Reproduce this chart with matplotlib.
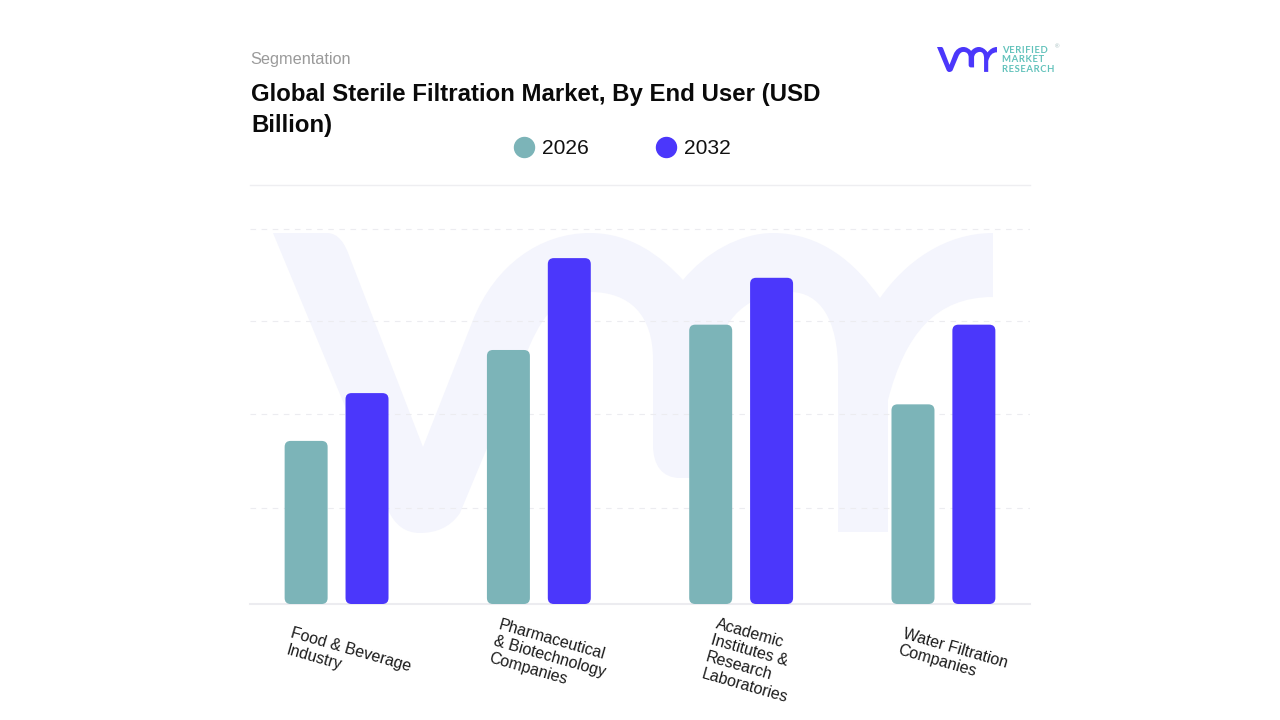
import matplotlib
matplotlib.use("Agg")
import matplotlib.pyplot as plt
from matplotlib.lines import Line2D
from matplotlib.patches import FancyBboxPatch, PathPatch
from matplotlib.path import Path
from matplotlib.transforms import Affine2D, ScaledTranslation

plt.rcParams['font.family'] = ['Liberation Sans', 'DejaVu Sans']

categories = ["Food & Beverage\nIndustry",
              "Pharmaceutical\n& Biotechnology\nCompanies",
              "Academic\nInstitutes &\nResearch\nLaboratories",
              "Water Filtration\nCompanies"]
values_2026 = [1.74, 2.71, 2.98, 2.13]
values_2032 = [2.25, 3.69, 3.48, 2.98]
years = ["2026", "2032"]
grid_levels = [1.024, 2.027, 3.019, 4.0]

TEAL = "#7cb4b8"
BLUE = "#4b37fb"
LOGO_TEAL = "#62c2bb"
GRID = "#ececf0"


def px(v):
    # pixels to points at dpi 100
    return v * 0.72


def logo_path():
    # vmr outline traced in pixels of the big watermark
    M, L, C, Z = Path.MOVETO, Path.LINETO, Path.CURVE4, Path.CLOSEPOLY
    segs = [(M, [(273, 233)]), (L, [(327, 233)]), (C, [(338, 233), (345, 243), (350, 258)]),
            (L, [(423, 447)]), (L, [(473, 320)]),
            (C, [(495, 265), (540, 233), (590, 233)]),
            (C, [(630, 233), (660, 255), (683, 280)]),
            (C, [(705, 253), (740, 233), (773, 233)]),
            (C, [(820, 233), (855, 262), (880, 298)]),
            (C, [(905, 262), (945, 233), (993, 233)]),
            (L, [(993, 297)]),
            (C, [(935, 297), (905, 335), (888, 400)]),
            (L, [(888, 532)]), (L, [(838, 532)]), (L, [(838, 370)]),
            (C, [(838, 320), (820, 292), (790, 292)]),
            (C, [(750, 292), (718, 320), (718, 360)]),
            (L, [(718, 478)]), (L, [(680, 478)]),
            (C, [(662, 478), (653, 465), (653, 445)]),
            (L, [(653, 360)]),
            (C, [(653, 315), (630, 292), (590, 292)]),
            (C, [(565, 292), (545, 310), (530, 345)]),
            (L, [(460, 513)]),
            (C, [(450, 528), (435, 533), (420, 533)]),
            (C, [(405, 533), (395, 525), (388, 510)]),
            (Z, [(273, 233)])]
    verts, codes = [], []
    for code, pts in segs:
        verts += pts
        codes += [code] * len(pts)
    return Path(verts, codes)


fig = plt.figure(figsize=(12.8, 7.2), dpi=100, facecolor="white")

# background layer in pixel coordinates for the watermark and logo
bg = fig.add_axes([0, 0, 1, 1], zorder=0)
bg.set_xlim(0, 1280)
bg.set_ylim(720, 0)
bg.axis("off")

mark = logo_path()
bg.add_patch(PathPatch(mark, fc="#f4f5fd", ec="none"))
small = Affine2D().translate(-273, -233).scale(0.0833).translate(937, 47)
bg.add_patch(PathPatch(mark.transformed(small), fc=BLUE, ec="none"))

for y, word in [(50.5, "VERIFIED"), (60, "MARKET"), (69.5, "RESEARCH")]:
    bg.text(1002, y, "\u200a".join(word), color=LOGO_TEAL, fontsize=px(9.5), fontweight="bold",
            family=["Lato", "DejaVu Sans"], va="center")
bg.text(1057, 47, "®", color="#9fb9bb", fontsize=px(6), ha="center", va="center")

bg.text(250, 59.5, "Segmentation", color="#9a9a9a", fontsize=px(16.3), va="center")
bg.text(251, 110, "Global Sterile Filtration Market, By End User (USD\nBillion)", color="#0a0a0a",
        fontsize=px(24), fontweight="bold", va="center", linespacing=1.41)

# chart axes: x 250..1030 px, y 604..185 px
ax = fig.add_axes([250 / 1280, 1 - 604 / 720, 780 / 1280, 419 / 720], zorder=1)
ax.patch.set_alpha(0)
ax.set_xlim(-0.428, 3.428)
ax.set_ylim(0, 4.47)

offset = 0.1505
bar_w = 0.2125
x_unit = 780 / 3.856
y_unit = 419 / 4.47
radius = 6 / x_unit
for i, (a, b) in enumerate(zip(values_2026, values_2032)):
    for x, h, col in [(i - offset, a, TEAL), (i + offset, b, BLUE)]:
        ax.add_patch(FancyBboxPatch((x - bar_w / 2, 0), bar_w, h,
                                    boxstyle=f"round,pad=0,rounding_size={radius}",
                                    mutation_aspect=x_unit / y_unit, fc=col, ec="none", zorder=3))

for s in ["left", "right"]:
    ax.spines[s].set_visible(False)
ax.spines["bottom"].set_color(GRID)
ax.spines["bottom"].set_linewidth(1.5)
ax.spines["top"].set_color("#eeeef1")
ax.spines["top"].set_linewidth(1)

ax.set_yticks(grid_levels)
ax.set_yticklabels([])
ax.tick_params(axis="y", length=0)
ax.grid(axis="y", color=GRID, lw=0.8, ls=(0, (5, 5)))
ax.set_axisbelow(True)

ax.set_xticks(range(len(categories)))
ax.set_xticklabels(categories, rotation=-16, ha="left", va="top", rotation_mode="anchor",
                   fontsize=px(16), color="#1a1a1a", linespacing=1.2)
ax.tick_params(axis="x", length=0, pad=0)
# start of each rotated label relative to its tick, in pixels
label_dx = [-43, -38, -23, -38]
label_dy = [-22, -13, -12, -22]
for lab, dx, dy in zip(ax.get_xticklabels(), label_dx, label_dy):
    lab.set_transform(lab.get_transform() + ScaledTranslation(dx / 100, dy / 100, fig.dpi_scale_trans))

handles = [Line2D([], [], ls="", marker="o", ms=px(20), color=c) for c in [TEAL, BLUE]]
fig.legend(handles, years, loc="center", bbox_to_anchor=(624.5 / 1280, 1 - 149 / 720), ncol=2, frameon=False,
           fontsize=px(21), handlelength=0.6, handletextpad=0.57, columnspacing=3.37, labelcolor="#111111")

fig.savefig("out.png", dpi=100)
